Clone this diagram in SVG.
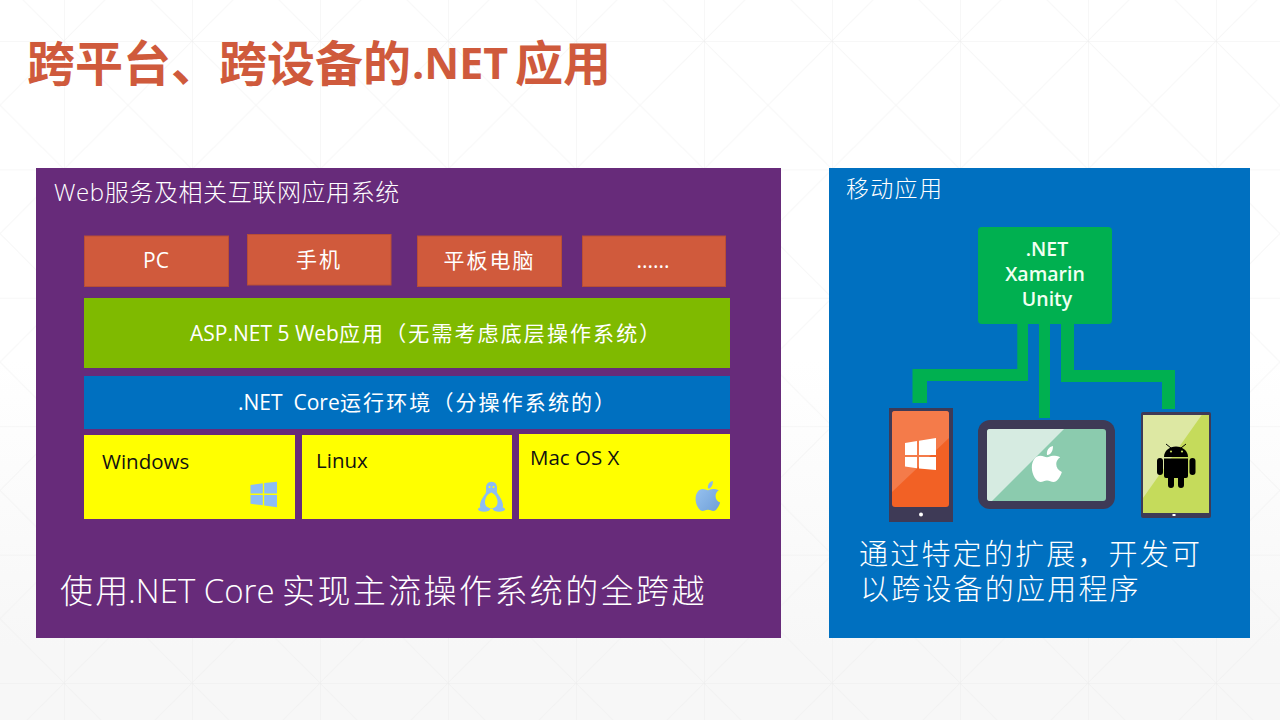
<svg xmlns="http://www.w3.org/2000/svg" xmlns:xlink="http://www.w3.org/1999/xlink" width="1280" height="720" viewBox="0 0 1280 720">
<style>
text{font-family:"Open Sans","Noto Sans CJK SC",sans-serif;fill:#fff;font-weight:300}
.title{font-family:"Noto Sans CJK SC",sans-serif;font-weight:700;font-size:48px;fill:#cf5a3c}
.title .lat{font-family:"Open Sans",sans-serif;font-weight:700;font-size:43px}
.os{fill:#111;font-weight:400;font-size:20.500px}
.lbl{font-size:21px;font-weight:400}
.bar{font-size:21px;font-weight:400}
.bar .zh{letter-spacing:2.100px}
.xam{font-size:19.500px;font-weight:600;fill:#f2fff2}
.mob{font-family:"Liberation Sans","Noto Sans CJK SC",sans-serif;font-size:29px;letter-spacing:2.200px}
.org{fill:#d05a3c;stroke:#b84e35;stroke-width:1}
.yel{fill:#ff0}
.dark{fill:#3e3a56}
.conn{fill:#00b050}
.ico{fill:#8dbdf5}
</style>
<defs>
<linearGradient id="bg" x1="0" y1="0" x2="0" y2="1">
<stop offset="0.5" stop-color="#fff"/><stop offset="0.9" stop-color="#f7f7f7"/><stop offset="1" stop-color="#f7f7f7"/>
</linearGradient>
<pattern id="grid" patternUnits="userSpaceOnUse" x="64" y="41" width="128" height="128.4">
<path d="M0 0H128M0 0V128.4" fill="none" stroke="#eaeaea" stroke-width="1" opacity="0.7"/>
<path d="M0 0L128 128.4M128 0L0 128.4" fill="none" stroke="#eaeaea" stroke-width="1" opacity="0.4"/>
</pattern>
<path id="apple" d="M68 27C60 27 56 31 50 31C44 31 38 27 30 27C16 27 4 40 4 60C4 80 18 100 30 100C38 100 42 96 50 96C58 96 62 100 70 100C80 100 90 86 95 72C84 68 78 60 78 50C78 42 83 35 90 31C84 28 76 27 68 27ZM68 0C69 14 60 26 50 25C48 12 56 2 68 0Z"/>
<linearGradient id="appleFill" x1="0" y1="0" x2="1" y2="1">
<stop offset="0" stop-color="#9cc6f2"/><stop offset="1" stop-color="#6f9fd8"/>
</linearGradient>
</defs>
<rect width="1280" height="720" fill="url(#bg)"/>
<rect width="1280" height="720" fill="url(#grid)"/>
<text class="title" x="27" y="81">跨平台、跨设备的<tspan class="lat" x="412" y="79">.NET</tspan><tspan x="515" y="81">应用</tspan></text>

<g id="panel-web">
<rect x="36" y="168" width="745" height="470" fill="#672b7a"/>
<text x="54" y="201" font-size="24" letter-spacing="0.6">Web服务及相关互联网应用系统</text>
<text x="60" y="603" font-size="33"><tspan letter-spacing="2.200">使用</tspan><tspan x="128">.NET Core</tspan><tspan x="282" letter-spacing="2.400">实现主流操作系统的全跨越</tspan></text>
</g>
<g id="node-pc"><rect class="org" x="84.500" y="236" width="144" height="50.500"/><text class="lbl" x="156" y="268" text-anchor="middle">PC</text></g>
<g id="node-phone"><rect class="org" x="247.500" y="234.500" width="143.500" height="50.500"/><text class="lbl" x="319" y="267" text-anchor="middle" letter-spacing="2">手机</text></g>
<g id="node-tablet"><rect class="org" x="417.500" y="236" width="144" height="50.500"/><text class="lbl" x="489.500" y="268" text-anchor="middle" letter-spacing="2">平板电脑</text></g>
<g id="node-more"><rect class="org" x="582.500" y="236" width="143" height="50.500"/><text class="lbl" x="653" y="268" text-anchor="middle">......</text></g>
<g id="node-asp"><rect x="84" y="298" width="646" height="70" fill="#7fba00"/><text class="bar" x="190" y="341">ASP.NET 5 Web<tspan class="zh" x="339">应用（无需考虑底层操作系统）</tspan></text></g>
<g id="node-core"><rect x="84" y="376" width="646" height="53" fill="#0070c0"/><text class="bar" x="238" y="410" xml:space="preserve">.NET  Core<tspan class="zh" x="340">运行环境（分操作系统的）</tspan></text></g>
<g id="node-windows"><rect class="yel" x="84" y="435" width="211" height="84"/><text class="os" x="102" y="469">Windows</text>
<path class="ico" d="M250.500 485L262.800 483.300V493.600H250.500ZM264.200 483.100L277 481.700V493.600H264.200ZM250.500 495H262.800V505.300L250.500 503.700ZM264.200 495H277V507.300L264.200 505.500Z"/></g>
<g id="node-linux"><rect class="yel" x="302" y="435" width="210" height="84"/><text class="os" x="316" y="468">Linux</text>
<path class="ico" d="M491.500 481.700C487.800 481.700 486 484.500 486 488C486 490.500 486.500 492 485.500 493.500C483 497 480 501.500 480 505.500C480 507.500 481 508.500 483 509H500C502 508.500 503 507.500 503 505.500C503 501.500 500 497 497.500 493.500C496.500 492 497 490.500 497 488C497 484.500 495.200 481.700 491.500 481.700Z"/>
<path class="yel" d="M491.300 492.500C487.500 494 485 498 485 502C485 506 487.500 508.500 491.300 508.500C495 508.500 497.500 506 497.500 502C497.500 498 495 494 491.300 492.500Z"/>
<ellipse class="ico" cx="484" cy="509.300" rx="6" ry="2.500"/><ellipse class="ico" cx="499" cy="509.300" rx="6" ry="2.500"/>
<circle class="yel" cx="489.500" cy="487" r="1"/><circle class="yel" cx="493.500" cy="487" r="1"/></g>
<g id="node-mac"><rect class="yel" x="519" y="434" width="211" height="85"/><text class="os" x="530" y="465">Mac OS X</text>
<use xlink:href="#apple" href="#apple" transform="translate(694.500 481) scale(0.27 0.3)" fill="url(#appleFill)"/></g>

<g id="panel-mobile">
<rect x="829" y="168" width="421" height="470" fill="#0070c0"/>
<text x="846" y="197" font-size="23" letter-spacing="1.300">移动应用</text>
<text class="mob" x="859" y="565">通过特定的扩展，开发可</text>
<text class="mob" x="860" y="600">以跨设备的应用程序</text>
</g>

<g id="connectors">
<path class="conn" d="M1017.300 324H1028V381H927V403H912.500V369H1017.300Z"/>
<rect class="conn" x="1039" y="324" width="11" height="94"/>
<path class="conn" d="M1061 324H1074V370H1175V409H1162V382H1061Z"/>
</g>

<g id="node-xamarin"><rect class="conn" x="978" y="227" width="134" height="97" rx="4"/>
<text class="xam" x="1047" y="256" text-anchor="middle">.NET</text>
<text class="xam" x="1045" y="281" text-anchor="middle">Xamarin</text>
<text class="xam" x="1047" y="306" text-anchor="middle">Unity</text></g>

<g id="device-windows">
<rect class="dark" x="889" y="408" width="64" height="114"/>
<rect x="892" y="411" width="57" height="96" rx="3" fill="#f26125"/>
<path d="M895 411H946Q949 411 949 414V438L892 492V414Q892 411 895 411Z" fill="#f47b4a"/>
<circle cx="921" cy="514.500" r="2" fill="#fff"/>
<path fill="#fff" d="M905 443L917 441V455H905ZM919 440.800L936 438V455H919ZM905 457H917V468.300L905 466.500ZM919 457H936V470L919 468.500Z"/>
</g>
<g id="device-apple">
<rect class="dark" x="978" y="420" width="137" height="89" rx="12"/>
<rect x="987" y="429" width="119" height="72" rx="3" fill="#8bcbae"/>
<path d="M990 429H1064L992 501H990Q987 501 987 498V432Q987 429 990 429Z" fill="#d6ebe1"/>
<use xlink:href="#apple" href="#apple" transform="translate(1030.500 446) scale(0.33 0.36)" fill="#fff"/>
</g>
<g id="device-android">
<rect class="dark" x="1141" y="412" width="70" height="106" rx="2"/>
<rect x="1143" y="415" width="66" height="98" fill="#c5db5b"/>
<path d="M1143 415H1201.700L1143 498Z" fill="#dde8a3"/>
<rect x="1172.500" y="514" width="3" height="2" fill="#fff"/>
<path d="M1164 457A12 10.500 0 0 1 1188 457ZM1164 458.500H1188V476Q1188 478 1186 478H1184V485A3 3 0 0 1 1178 485V478H1174V485A3 3 0 0 1 1168 485V478H1166Q1164 478 1164 476Z" fill="#000"/>
<rect x="1157" y="458" width="6" height="17" rx="3" fill="#000"/>
<rect x="1189.500" y="458" width="6" height="17" rx="3" fill="#000"/>
<path d="M1166 444L1171 448M1186 444L1181 448" stroke="#000" stroke-width="1" fill="none"/>
<circle cx="1171" cy="451.500" r="1.100" fill="#c5db5b"/><circle cx="1182" cy="451.500" r="1.100" fill="#c5db5b"/>
</g>
</svg>
